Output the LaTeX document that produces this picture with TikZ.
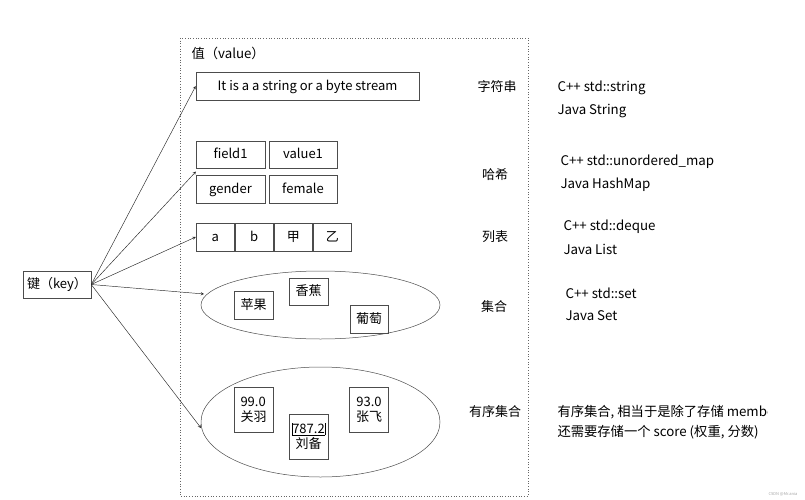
\documentclass[tikz,border=0pt]{standalone}
\usepackage{fontspec}
\setmainfont{Noto Sans CJK SC}
\usetikzlibrary{positioning}
\begin{document}
\begin{tikzpicture}[
        x=1pt, y=-1pt,
        >=stealth,
        box/.style={draw=black!70, line width=0.5pt, inner sep=0pt, text height=10.5pt, text depth=2pt, font=\fontsize{13}{15}\selectfont},
        cell/.style={box, minimum height=28pt},
        pair/.style={draw=black!70, line width=0.5pt, inner sep=0pt, minimum width=39pt, minimum height=45pt, align=left, font=\fontsize{13}{15}\selectfont},
        note/.style={anchor=west, font=\fontsize{13.3}{15}\selectfont},
        kind/.style={font=\fontsize{13}{15}\selectfont},
        link/.style={->, black!85, line width=0.45pt},
        ]
        \useasboundingbox (0,0) rectangle (805,500);

        % Value frame
        \draw[black!60, dotted, line width=0.7pt] (180,38) rectangle (528,496);
        \node[note] (valtitle) at (188,53) {值（value）};

        % Key
        \node[box, minimum width=68pt, minimum height=27pt] (key) at (57,284.5) {键（key）};

        % String
        \node[cell, minimum width=223pt] (str) at (307.5,86) {It is a a string or a byte stream};

        % Hash
        \node[cell, minimum width=69pt, minimum height=27pt] (field) at (230.5,154.5) {field1};
        \node[cell, minimum width=68pt, minimum height=27pt] (fval) at (303,154.5) {value1};
        \node[cell, minimum width=69pt] (gender) at (230.5,189) {gender};
        \node[cell, minimum width=68pt] (female) at (303,189) {female};
        \coordinate (hash) at (196,171.5);

        % List
        \node[cell, minimum width=38.5pt] (la) at (215.25,237) {a};
        \node[cell, minimum width=38.5pt, right=0pt of la] (lb) {b};
        \node[cell, minimum width=38.5pt, right=0pt of lb] (lc) {甲};
        \node[cell, minimum width=38.5pt, right=0pt of lc] (ld) {乙};

        % Set
        \draw[black!70, line width=0.5pt] (320.5,305) ellipse (119.5 and 34);
        \coordinate (set) at (204,294);
        \node[cell, minimum width=39pt] (apple) at (253.5,305) {苹果};
        \node[cell, minimum width=39pt, minimum height=27pt] (banana) at (308.5,291.5) {香蕉};
        \node[cell, minimum width=38pt] (grape) at (369,319) {葡萄};

        % Sorted set
        \draw[black!70, line width=0.5pt] (320.5,422) ellipse (119.5 and 55);
        \coordinate (zset) at (201,428);
        \node[pair] (guan) at (253.5,409.5) {99.0\\关羽};
        \node[pair, align=center] (liu) at (308.5,436.5) {\makebox[0pt][r]{\vrule height 10pt depth 2pt}\underline{787.2}\makebox[0pt][l]{\vrule height 10pt depth 2pt}\\刘备};
        \node[pair, align=center] (zhang) at (369,409.5) {93.0\\张飞};

        % Type names
        \node[kind] (tstr) at (497,87) {字符串};
        \node[kind] (thash) at (495,175) {哈希};
        \node[kind] (tlist) at (495,237) {列表};
        \node[kind] (tset) at (494,307) {集合};
        \node[kind] (tzset) at (495,412) {有序集合};

        % Language equivalents
        \node[note] (cstr) at (554,88) {C++ std::string};
        \node[note] (jstr) at (554,111) {Java String};
        \node[note] (chash) at (557,162) {C++ std::unordered\_map};
        \node[note] (jhash) at (557,185) {Java HashMap};
        \node[note] (clist) at (560,227) {C++ std::deque};
        \node[note] (jlist) at (560,249) {Java List};
        \node[note] (cset) at (562,293) {C++ std::set};
        \node[note] (jset) at (562,316) {Java Set};
        \begin{scope}
            \clip (540,395) rectangle (767,445);
            \node[note] (zline1) at (554,412) {有序集合, 相当于是除了存储 member};
        \end{scope}
        \node[note] (zline2) at (554,432) {还需要存储一个 score (权重, 分数)};

        % Watermark
        \node[anchor=east, text=black!35, font=\fontsize{4}{5}\selectfont] (mark) at (801,494) {CSDN @Mr.ania};

        % Arrows from key
        \draw[link] (key.east) -- (str.west);
        \draw[link] (key.east) -- (hash);
        \draw[link] (key.east) -- (la.west);
        \draw[link] (key.east) -- (set);
        \draw[link] (key.east) -- (zset);

    \end{tikzpicture}
\end{document}
